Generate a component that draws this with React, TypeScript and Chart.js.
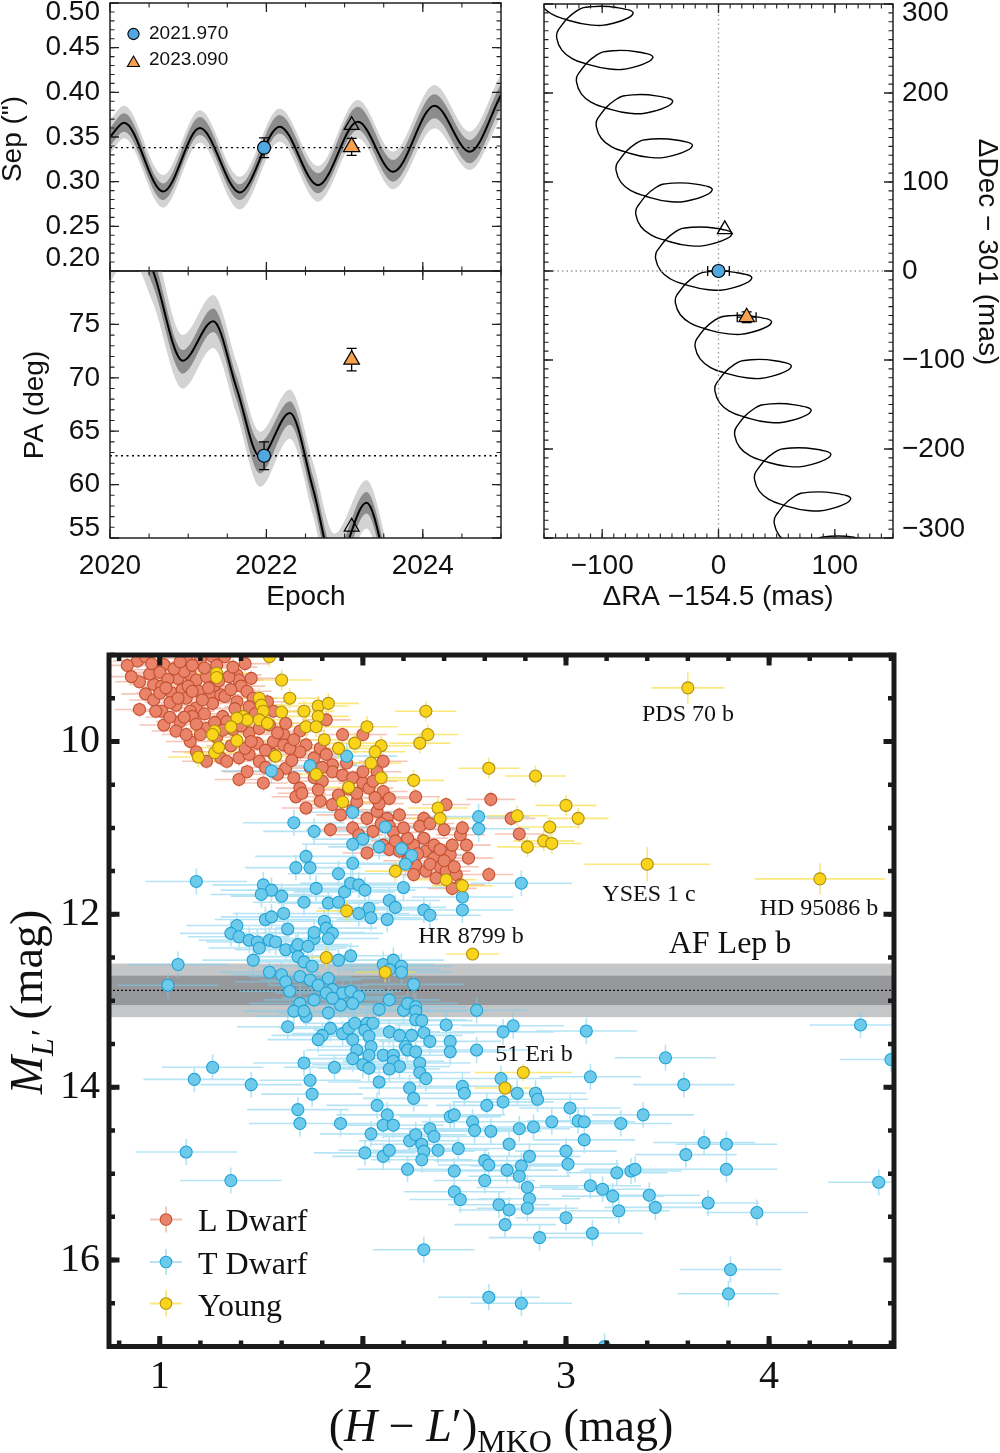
import React, { useEffect, useRef } from "react";
import { Chart, registerables } from "chart.js";

Chart.register(...registerables);

const SANS = "'Liberation Sans', Arial, Helvetica, sans-serif";
const SERIF = "'Liberation Serif', 'Times New Roman', Times, serif";
const INK = "#111111";

/* ================= Panel A : separation and PA versus epoch ================= */
const epochMin = 2020;
const epochMax = 2025;
const epochTickLabels = [2020, 2022, 2024];
const sepTickLabels = [0.25, 0.3, 0.35, 0.4, 0.45];
const sepEdgeLabels = ["0.50", "0.20"];
const paTickLabels = [60, 65, 70, 75];
const paEdgeLabel = "55";

const sepEpochs = [2020.0, 2020.18, 2020.68, 2021.15, 2021.66, 2022.17, 2022.66, 2023.17, 2023.62, 2024.15, 2024.6, 2025.0];
const sepModel = [0.35, 0.366, 0.289, 0.36, 0.288, 0.3615, 0.296, 0.367, 0.311, 0.385, 0.3335, 0.397];
const sepLightHi = [0.369, 0.385, 0.3075, 0.38, 0.3056, 0.382, 0.3175, 0.3914, 0.3336, 0.4082, 0.356, 0.421];
const sepDarkHi = [0.36, 0.3765, 0.298, 0.3725, 0.297, 0.3746, 0.3094, 0.3839, 0.3243, 0.3978, 0.3466, 0.41];
const sepDarkLo = [0.34, 0.356, 0.2795, 0.3522, 0.2795, 0.354, 0.287, 0.3578, 0.3, 0.3709, 0.3205, 0.384];
const sepLightLo = [0.331, 0.3485, 0.271, 0.3436, 0.269, 0.3447, 0.2776, 0.3485, 0.2914, 0.3597, 0.313, 0.373];

const paEpochs = [2019.95, 2020.25, 2020.55, 2020.93, 2021.32, 2021.62, 2021.92, 2022.3, 2022.6, 2022.87, 2023.28, 2023.6, 2023.92, 2024.3, 2024.9];
const paModel = [81.8, 84.5, 80.0, 71.6, 75.3, 69.0, 62.6, 66.7, 59.5, 52.3, 58.3, 50.5, 45.0, 49.0, 37.0];
const paLightHi = [85.3, 87.7, 83.0, 74.0, 77.75, 71.4, 64.95, 68.9, 62.0, 55.4, 60.4, 53.0, 47.6, 51.6, 40.0];
const paDarkHi = [83.4, 86.0, 81.4, 72.6, 76.5, 70.1, 64.0, 67.8, 60.7, 53.6, 59.3, 51.7, 46.2, 50.2, 38.3];
const paDarkLo = [80.2, 83.0, 78.6, 70.4, 74.3, 67.9, 61.05, 65.6, 58.3, 51.0, 57.3, 49.3, 43.8, 47.8, 35.7];
const paLightLo = [78.3, 81.3, 77.0, 69.0, 72.8, 66.6, 59.8, 64.3, 57.0, 49.2, 55.9, 48.0, 42.4, 46.4, 34.0];

const obsEpochs = [2021.97, 2023.09];
const obsLabels = ["2021.970", "2023.090"];
const obsSep = [0.338, 0.339];
const obsSepErr = [0.011, 0.0095];
const obsPA = [62.7, 71.7];
const obsPAErr = [1.3, 1.05];
const predEpoch = 2023.09;
const predSep = 0.3632;
const predPA = 56.05;
const sepRef = 0.338;
const paRef = 62.7;

/* ================= Panel B : sky-plane track ================= */
const raMin = -150;
const raMax = 150;
const decMin = -300;
const decMax = 300;
const raTickLabels = [-100, 0, 100];
const decTickLabels = [-200, -100, 0, 100, 200];
const decEdgeLabels = ["300", "\u2212300"];
const skyObsRA = [0, 24.2];
const skyObsDec = [0, -51.9];
const skyObsRAErr = [9.3, 8.1];
const skyObsDecErr = [3, 6];
const skyPredRA = 5.4;
const skyPredDec = 46.8;
const skyTrack: [number, number][] = [
  [-138.9, 341.8], [-154.7, 320.4], [-156.0, 311.1], [-151.8, 298.0], [-143.2, 288.6],
  [-131.9, 282.9], [-110.5, 276.5], [-90.5, 278.4], [-73.4, 289.6], [-87.6, 296.0], [-107.7, 297.1], [-121.9, 292.2], [-137.7, 270.8], [-139.0, 261.5], [-134.8, 248.4], [-126.2, 239.0],
  [-114.9, 233.3], [-93.5, 226.9], [-73.5, 228.8], [-56.4, 240.0], [-70.6, 246.4], [-90.7, 247.5], [-104.9, 242.6], [-120.7, 221.2], [-122.0, 211.9], [-117.8, 198.8], [-109.2, 189.4],
  [-97.9, 183.7], [-76.5, 177.3], [-56.5, 179.2], [-39.4, 190.4], [-53.6, 196.8], [-73.7, 197.9], [-87.9, 193.0], [-103.7, 171.6], [-105.0, 162.3], [-100.8, 149.2], [-92.2, 139.8],
  [-80.9, 134.1], [-59.5, 127.7], [-39.5, 129.6], [-22.4, 140.8], [-36.6, 147.2], [-56.7, 148.3], [-70.9, 143.4], [-86.7, 122.0], [-88.0, 112.7], [-83.8, 99.6], [-75.2, 90.2],
  [-63.9, 84.5], [-42.5, 78.1], [-22.5, 80.0], [-5.4, 91.2], [-19.6, 97.6], [-39.7, 98.7], [-53.9, 93.8], [-69.7, 72.4], [-71.0, 63.1], [-66.8, 50.0], [-58.2, 40.6],
  [-46.9, 34.9], [-25.5, 28.5], [-5.5, 30.4], [11.6, 41.6], [-2.6, 48.0], [-22.7, 49.1], [-36.9, 44.2], [-52.7, 22.8], [-54.0, 13.5], [-49.8, 0.4], [-41.2, -9.0],
  [-29.9, -14.7], [-8.5, -21.1], [11.5, -19.2], [28.6, -8.0], [14.4, -1.6], [-5.7, -0.5], [-19.9, -5.4], [-35.7, -26.8], [-37.0, -36.1], [-32.8, -49.2], [-24.2, -58.6],
  [-12.9, -64.3], [8.5, -70.7], [28.5, -68.8], [45.6, -57.6], [31.4, -51.2], [11.3, -50.1], [-2.9, -55.0], [-18.7, -76.4], [-20.0, -85.7], [-15.8, -98.8], [-7.2, -108.2],
  [4.1, -113.9], [25.5, -120.3], [45.5, -118.4], [62.6, -107.2], [48.4, -100.8], [28.3, -99.7], [14.1, -104.6], [-1.7, -126.0], [-3.0, -135.3], [1.2, -148.4], [9.8, -157.8],
  [21.1, -163.5], [42.5, -169.9], [62.5, -168.0], [79.6, -156.8], [65.4, -150.4], [45.3, -149.3], [31.1, -154.2], [15.3, -175.6], [14.0, -184.9], [18.2, -198.0], [26.8, -207.4],
  [38.1, -213.1], [59.5, -219.5], [79.5, -217.6], [96.6, -206.4], [82.4, -200.0], [62.3, -198.9], [48.1, -203.8], [32.3, -225.2], [31.0, -234.5], [35.2, -247.6], [43.8, -257.0],
  [55.1, -262.7], [76.5, -269.1], [96.5, -267.2], [113.6, -256.0], [99.4, -249.6], [79.3, -248.5], [65.1, -253.4], [49.3, -274.8], [48.0, -284.1], [52.2, -297.2], [60.8, -306.6],
  [72.1, -312.3], [93.5, -318.7], [113.5, -316.8], [130.6, -305.6], [116.4, -299.2], [96.3, -298.1], [82.1, -303.0], [66.3, -324.4],
];

/* ================= Panel C : colour-magnitude diagram ================= */
const cmdXMin = 0.75;
const cmdXMax = 4.615;
const cmdYMin = 9;
const cmdYMax = 17;
const cmdXTickLabels = [1, 2, 3, 4];
const cmdYTickLabels = [10, 12, 14, 16];

const lDwarfs: [number, number][] = [
  [0.89, 9.07], [0.98, 9.17], [1.02, 9.11], [1.13, 9.04], [1.2, 9.06], [1.26, 9.02], [1.32, 9.02],
  [0.9, 9.31], [0.97, 9.34], [1.01, 9.36], [1.09, 9.27], [1.15, 9.23], [1.12, 9.19], [1.18, 9.29], [1.23, 9.25], [1.38, 9.23], [1.39, 9.29], [1.45, 9.27], [1.34, 9.25],
  [1.06, 9.44], [1.11, 9.4], [1.19, 9.42], [1.13, 9.5], [1.25, 9.46], [1.3, 9.46], [1.32, 9.48], [1.26, 9.56], [1.18, 9.61], [1.08, 9.58], [0.9, 9.63], [1.01, 9.65], [1.15, 9.65],
  [1.4, 9.36], [1.43, 9.42], [1.38, 9.54], [1.46, 9.5], [1.53, 9.54], [1.56, 9.65],
  [1.02, 9.81], [1.1, 9.77], [1.16, 9.71], [1.23, 9.85], [1.2, 9.92], [1.15, 10.0], [1.08, 9.88], [1.31, 9.71], [1.33, 9.77], [1.36, 9.86], [1.44, 9.9], [1.49, 9.85], [1.54, 9.81],
  [1.61, 9.92], [1.62, 9.79], [1.69, 9.88], [1.72, 10.04], [1.56, 10.0], [1.82, 9.75], [1.9, 9.92], [2.0, 9.92],
  [1.18, 10.12], [1.23, 10.23], [1.3, 10.19], [1.33, 10.23], [1.39, 10.19], [1.44, 10.15], [1.49, 10.23], [1.56, 10.15], [1.61, 10.04], [1.69, 10.12], [1.76, 10.19], [1.79, 10.08], [1.82, 10.15], [1.85, 10.27],
  [1.39, 10.44], [1.51, 10.48], [1.43, 10.35], [1.62, 10.31], [1.66, 10.42], [1.69, 10.54], [1.76, 10.42], [1.8, 10.46], [1.85, 10.35], [1.9, 10.39], [1.95, 10.42], [2.0, 10.48], [2.03, 10.54],
  [2.1, 10.58], [2.07, 10.35], [2.13, 10.66], [2.1, 10.23], [2.0, 10.35], [2.05, 10.46],
  [1.67, 10.64], [1.72, 10.77], [1.79, 10.69], [1.85, 10.73], [1.89, 10.85], [1.95, 10.79], [2.02, 10.89], [2.07, 10.81], [2.12, 10.89], [2.18, 10.85], [2.13, 10.98], [1.95, 11.0], [1.84, 11.02], [1.98, 11.08], [2.05, 11.04],
  [2.02, 11.29], [2.1, 11.2], [2.13, 11.25], [2.18, 11.27], [2.25, 11.2], [2.3, 11.12], [2.31, 11.27], [2.35, 11.35], [2.26, 11.43], [2.31, 11.5], [2.38, 11.45], [2.43, 11.31], [2.44, 11.2],
  [2.48, 11.08], [2.49, 11.0], [2.51, 11.2], [2.41, 11.5], [2.25, 11.54], [2.36, 11.58], [2.46, 11.54], [2.48, 11.66], [2.44, 11.7], [2.62, 11.54], [2.63, 10.67], [2.41, 10.73], [2.26, 10.64],
  [2.3, 10.89], [2.4, 11.02], [2.22, 11.12], [2.28, 10.98], [2.35, 11.2], [2.73, 10.89], [2.77, 11.07],
  [0.95, 9.22], [1.05, 9.55], [1.22, 9.68], [1.28, 9.95], [1.35, 10.05], [1.42, 10.08], [1.48, 10.02], [1.52, 10.3], [1.58, 10.38], [1.65, 10.22], [1.7, 10.6], [1.78, 10.56],
  [1.88, 10.62], [1.93, 10.55], [1.97, 10.7], [2.08, 10.72], [2.15, 11.05], [2.2, 11.0], [2.22, 11.38], [2.38, 11.25], [2.33, 10.95], [1.14, 9.36], [1.05, 9.72], [1.27, 9.35],
  [0.84, 9.12], [0.86, 9.25], [0.93, 9.02], [0.96, 9.1], [1.0, 9.2], [1.04, 9.28], [1.07, 9.16], [1.1, 9.08], [1.16, 9.12], [1.22, 9.15], [1.28, 9.12], [1.36, 9.14], [1.42, 9.1],
  [0.93, 9.45], [0.97, 9.52], [1.0, 9.44], [1.03, 9.38], [1.09, 9.5], [1.16, 9.42], [1.21, 9.52], [1.24, 9.38], [1.29, 9.3], [1.35, 9.4], [1.37, 9.62], [1.44, 9.6], [1.47, 9.68],
  [1.12, 9.72], [1.18, 9.8], [1.27, 9.78], [1.31, 9.87], [1.4, 9.82], [1.45, 10.0], [1.52, 10.1], [1.58, 9.9], [1.64, 10.08], [1.66, 9.98], [1.74, 10.3], [1.8, 10.3], [1.92, 10.25],
  [1.97, 10.6], [2.06, 10.65], [2.09, 10.95], [2.16, 11.15], [2.27, 11.3], [2.33, 11.42], [2.4, 11.38], [2.45, 11.45], [2.52, 11.35], [0.98, 9.65], [1.13, 9.92],
];

const tDwarfs: [number, number][] = [
  [1.55, 10.34], [1.74, 10.28], [1.92, 10.17], [1.95, 10.82], [1.66, 10.94], [1.76, 11.04], [2.11, 10.99], [2.57, 10.87], [2.57, 11.01], [1.95, 11.19], [2.0, 11.13], [2.08, 11.22],
  [2.19, 11.24], [2.24, 11.32], [2.21, 11.42], [1.95, 11.41], [1.72, 11.33], [1.67, 11.46], [1.74, 11.46], [1.88, 11.53], [1.18, 11.62], [1.51, 11.66], [1.55, 11.72], [1.5, 11.77],
  [1.6, 11.79], [1.77, 11.7], [1.91, 11.74], [1.94, 11.64], [1.98, 11.66], [2.01, 11.72], [2.2, 11.69], [2.13, 11.84], [2.16, 11.92], [2.03, 11.93], [1.98, 11.99], [2.04, 12.04],
  [2.12, 12.06], [2.3, 11.95], [2.33, 12.01], [2.49, 11.8], [2.49, 11.95], [1.71, 11.86], [1.83, 11.87], [1.88, 11.86], [1.52, 12.06], [1.55, 12.03], [1.61, 11.99], [1.63, 12.17],
  [1.81, 12.08], [1.82, 12.16], [1.85, 12.22], [1.83, 12.28], [1.76, 12.28], [1.76, 12.21], [1.38, 12.13], [1.35, 12.22], [1.39, 12.26], [1.44, 12.3], [1.48, 12.32], [1.49, 12.39],
  [1.54, 12.3], [1.57, 12.32], [1.62, 12.41], [1.67, 12.39], [1.68, 12.35], [1.73, 12.37], [1.68, 12.49], [1.71, 12.55], [1.75, 12.6], [1.88, 12.53], [1.94, 12.48], [1.46, 12.53],
  [1.09, 12.58], [1.04, 12.82], [1.54, 12.67], [1.6, 12.7], [1.62, 12.78], [1.69, 12.72], [1.74, 12.76], [1.78, 12.82], [1.83, 12.74], [2.1, 12.58], [2.15, 12.53], [2.13, 12.64],
  [2.19, 12.6], [2.19, 12.67], [2.25, 12.81], [2.78, 11.64],
  [1.85, 12.87], [1.64, 12.89], [1.69, 13.03], [1.76, 12.99], [1.82, 12.91], [1.9, 12.91], [1.94, 12.89], [1.98, 12.95], [1.95, 13.03], [1.89, 13.05], [1.85, 12.97], [1.66, 13.12],
  [1.72, 13.18], [1.71, 13.12], [1.83, 13.14], [2.13, 12.99], [2.08, 13.1], [2.2, 13.11], [2.22, 13.03], [2.26, 13.07], [2.26, 13.12], [2.26, 13.22], [2.29, 13.23], [2.56, 13.11],
  [1.63, 13.3], [1.84, 13.32], [1.8, 13.4], [1.78, 13.45], [1.9, 13.38], [1.93, 13.32], [1.96, 13.26], [2.02, 13.26], [2.01, 13.34], [2.05, 13.26], [2.03, 13.41], [1.95, 13.45],
  [1.97, 13.57], [2.13, 13.36], [2.18, 13.4], [2.24, 13.4], [2.3, 13.37], [2.33, 13.47], [2.41, 13.28], [2.43, 13.47], [2.43, 13.59], [2.21, 13.53], [2.22, 13.57], [2.26, 13.59],
  [2.04, 13.53], [2.03, 13.63], [2.1, 13.63], [2.15, 13.63], [2.15, 13.7], [2.18, 13.76], [2.13, 13.79], [1.95, 13.67], [2.0, 13.74], [2.03, 13.78], [2.28, 13.72], [2.28, 13.83],
  [2.31, 13.9], [1.71, 13.72], [1.86, 13.77], [1.74, 13.92], [1.75, 14.08], [2.08, 13.94], [2.23, 14.01], [2.25, 14.13], [2.49, 13.99], [2.5, 14.07], [2.61, 14.21], [2.56, 13.57],
  [1.17, 13.91], [1.26, 13.77], [1.45, 13.97], [1.68, 14.26], [1.69, 14.42], [1.89, 14.42], [2.07, 14.21], [2.12, 14.32], [2.1, 14.44], [2.15, 14.44], [2.04, 14.54], [2.23, 14.62],
  [2.26, 14.55], [2.29, 14.66], [2.3, 14.74], [2.29, 14.84], [2.33, 14.48], [2.35, 14.57], [2.37, 14.73], [2.43, 14.34], [2.45, 14.32], [2.47, 14.71], [2.54, 14.4], [2.55, 14.5],
  [2.63, 14.51], [2.01, 14.76], [2.1, 14.8], [2.13, 14.73], [2.22, 14.95], [2.45, 14.97], [2.45, 15.21], [2.48, 15.3], [2.6, 14.85], [2.62, 14.9], [2.6, 15.08], [2.67, 15.36],
  [1.13, 14.75], [1.35, 15.08], [2.3, 15.88], [2.62, 16.43],
  [2.74, 13.29], [2.69, 13.36], [3.1, 13.35], [4.45, 13.28], [4.6, 13.68], [3.49, 13.66], [3.58, 13.97], [3.12, 13.88], [2.68, 13.9], [2.76, 14.07], [2.85, 14.07], [2.86, 14.14],
  [2.69, 14.17], [3.02, 14.24], [3.38, 14.32], [3.27, 14.42], [3.06, 14.39], [3.09, 14.4], [2.93, 14.4], [2.77, 14.48], [2.84, 14.46], [2.72, 14.66], [3.09, 14.61], [3.0, 14.74],
  [3.01, 14.89], [2.82, 14.8], [2.78, 14.91], [2.71, 14.96], [2.77, 15.03], [2.81, 15.16], [2.82, 15.29], [2.81, 15.4], [2.72, 15.42], [2.7, 15.59], [2.87, 15.74], [3.0, 15.51],
  [3.13, 15.69], [3.12, 15.14], [3.18, 15.18], [3.23, 15.26], [3.26, 15.43], [3.25, 14.99], [3.32, 14.97], [3.34, 14.95], [3.41, 15.25], [3.44, 15.39], [3.59, 14.78], [3.68, 14.64],
  [3.79, 14.66], [3.79, 14.95], [3.7, 15.34], [3.94, 15.45], [4.54, 15.1], [3.81, 16.11], [3.8, 16.39], [2.78, 16.5], [3.19, 17.0],
];

const youngObjects: [number, number][] = [
  [1.54, 9.02], [1.28, 9.21], [1.28, 9.26], [1.6, 9.29], [1.49, 9.5], [1.5, 9.58], [1.64, 9.5], [1.51, 9.65], [1.6, 9.66], [1.71, 9.65], [1.78, 9.59], [1.83, 9.56], [1.78, 9.71],
  [1.49, 9.75], [1.53, 9.79], [1.72, 9.83], [1.77, 9.83], [1.41, 9.71], [1.43, 9.75], [1.38, 9.73], [1.35, 9.83], [1.27, 9.88], [1.38, 9.99], [1.26, 9.92], [1.19, 10.18], [1.27, 10.13],
  [1.29, 10.07], [1.57, 10.17], [1.81, 9.98], [1.88, 10.08], [1.96, 10.02], [2.02, 9.83], [2.09, 10.05], [2.06, 10.12], [2.04, 10.25], [2.09, 10.42], [2.31, 9.65], [2.32, 9.92],
  [2.28, 10.02], [2.25, 10.45], [1.93, 10.53], [1.9, 10.7], [1.77, 10.38], [2.37, 10.77], [2.38, 10.89], [2.62, 10.31], [2.16, 11.5], [2.41, 11.6], [2.49, 11.67], [1.92, 11.96],
  [1.82, 12.5], [2.11, 12.67], [2.85, 10.4], [3.0, 10.74], [3.06, 10.89], [2.76, 10.86], [2.92, 10.99], [2.89, 11.15], [2.93, 11.18], [2.81, 11.22], [2.7, 14.01],
];

const planetNames = ["PDS 70 b", "YSES 1 c", "HD 95086 b", "HR 8799 b", "51 Eri b"];
const planetColor = [3.6, 3.4, 4.25, 2.54, 2.79];
const planetMag = [9.38, 11.42, 11.59, 12.46, 13.83];
const planetColorErr = [0.18, 0.31, 0.32, 0.13, 0.24];
const planetMagErr = [0.18, 0.2, 0.18, 0.05, 0.1];

const afLepName = "AF Lep b";
const afLepMag = 12.88;
const afLepErr1 = 0.17;
const afLepErr2 = 0.31;

const lDwarfErr = [0.12, 0.09];
const tDwarfErr = [0.25, 0.15];
const youngErr = [0.15, 0.12];
const legendNames = ["L Dwarf", "T Dwarf", "Young"];

/* ================= styles / layout ================= */
const BLUE = "#4FA8E0";
const ORANGE = "#F5A14E";
const BAND_LIGHT = "#d3d3d3";
const BAND_DARK = "#8c8c8c";
const L_FILL = "#E9846A";
const L_EDGE = "#C44F2E";
const L_BAR = "rgba(236,150,128,0.55)";
const T_FILL = "#6DCAEB";
const T_EDGE = "#1FA3D6";
const T_BAR = "rgba(120,205,236,0.55)";
const Y_FILL = "#FAD41B";
const Y_EDGE = "#B08F10";
const Y_BAR = "rgba(250,222,70,0.7)";

const CMD_TOP = 640;
const planetLabelPos = [[688, 721], [649, 901], [819, 915], [471, 943], [534, 1061]];
const afLepLabelPos = [730, 953];

/* ================= helpers ================= */
const xy = (xs: number[], ys: number[]) => xs.map((x, i) => ({ x, y: ys[i] }));
const pairs = (p: [number, number][]) => p.map(([x, y]) => ({ x, y }));
const minus = (v: number) => (v < 0 ? "\u2212" + Math.abs(v) : String(v));

function steps(a: number, b: number, s: number) {
  const out: number[] = [];
  const n = Math.round((b - a) / s);
  for (let i = 0; i <= n; i++) out.push(+(a + i * s).toFixed(6));
  return out;
}

const setTicks = (vals: number[]) => (scale: any) => {
  scale.ticks = vals.map((v) => ({ value: v }));
};
const fixSize = (w?: number, h?: number) => (scale: any) => {
  if (w !== undefined) scale.width = w;
  if (h !== undefined) scale.height = h;
  scale.paddingTop = 0;
  scale.paddingBottom = 0;
  scale.paddingLeft = 0;
  scale.paddingRight = 0;
};

function axis(extra: any) {
  return {
    type: "linear",
    bounds: "data",
    grid: { display: false, drawTicks: false },
    border: { display: false },
    ...extra,
  };
}

function tickFont(family: string, size: number, padding: number, callback: any) {
  return { font: { family, size }, color: INK, padding, autoSkip: false, maxRotation: 0, minRotation: 0, callback };
}

function drawInTicks(ctx: any, chart: any, xv: number[], yv: number[], len: number, lw: number) {
  const a = chart.chartArea;
  const xs = chart.scales.x;
  const ys = chart.scales.y;
  ctx.save();
  ctx.lineWidth = lw;
  ctx.beginPath();
  for (const v of xv) {
    const p = xs.getPixelForValue(v);
    if (p < a.left - 0.5 || p > a.right + 0.5) continue;
    ctx.moveTo(p, a.bottom);
    ctx.lineTo(p, a.bottom - len);
    ctx.moveTo(p, a.top);
    ctx.lineTo(p, a.top + len);
  }
  for (const v of yv) {
    const p = ys.getPixelForValue(v);
    if (p < a.top - 0.5 || p > a.bottom + 0.5) continue;
    ctx.moveTo(a.left, p);
    ctx.lineTo(a.left + len, p);
    ctx.moveTo(a.right, p);
    ctx.lineTo(a.right - len, p);
  }
  ctx.stroke();
  ctx.restore();
}

function text(ctx: any, s: string, x: number, y: number, font: string, align = "center", baseline = "middle", rot = 0) {
  ctx.save();
  ctx.translate(x, y);
  if (rot) ctx.rotate(rot);
  ctx.font = font;
  ctx.fillStyle = INK;
  ctx.textAlign = align;
  ctx.textBaseline = baseline;
  ctx.fillText(s, 0, 0);
  ctx.restore();
}

function triPath(ctx: any, x: number, y: number, r: number) {
  ctx.beginPath();
  ctx.moveTo(x, y - r);
  ctx.lineTo(x + r * Math.sin((2 * Math.PI) / 3), y - r * Math.cos((2 * Math.PI) / 3));
  ctx.lineTo(x + r * Math.sin((4 * Math.PI) / 3), y - r * Math.cos((4 * Math.PI) / 3));
  ctx.closePath();
}

const errorBars = {
  id: "errorBars",
  beforeDatasetDraw(chart: any, args: any) {
    const ds: any = chart.data.datasets[args.index];
    if (!ds.errX && !ds.errY) return;
    const { ctx } = chart;
    const xs = chart.scales.x;
    const ys = chart.scales.y;
    const cap = 5;
    ctx.save();
    ctx.strokeStyle = "#000";
    ctx.lineWidth = 1.3;
    ds.data.forEach((p: any, i: number) => {
      const px = xs.getPixelForValue(p.x);
      const py = ys.getPixelForValue(p.y);
      ctx.beginPath();
      if (ds.errY) {
        const y1 = ys.getPixelForValue(p.y + ds.errY[i]);
        const y2 = ys.getPixelForValue(p.y - ds.errY[i]);
        ctx.moveTo(px, y1); ctx.lineTo(px, y2);
        ctx.moveTo(px - cap, y1); ctx.lineTo(px + cap, y1);
        ctx.moveTo(px - cap, y2); ctx.lineTo(px + cap, y2);
      }
      if (ds.errX) {
        const x1 = xs.getPixelForValue(p.x - ds.errX[i]);
        const x2 = xs.getPixelForValue(p.x + ds.errX[i]);
        ctx.moveTo(x1, py); ctx.lineTo(x2, py);
        ctx.moveTo(x1, py - cap); ctx.lineTo(x1, py + cap);
        ctx.moveTo(x2, py - cap); ctx.lineTo(x2, py + cap);
      }
      ctx.stroke();
    });
    ctx.restore();
  },
};

const base = {
  responsive: false,
  animation: false,
  events: [],
  plugins: { legend: { display: false }, tooltip: { enabled: false } },
};

function bandSets(xs: number[], lh: number[], dh: number[], dl: number[], ll: number[], mid: number[]) {
  const common = { pointRadius: 0, borderWidth: 0, cubicInterpolationMode: "monotone" };
  return [
    { ...common, data: xy(xs, lh), fill: "+1", backgroundColor: BAND_LIGHT, order: 3 },
    { ...common, data: xy(xs, ll), fill: false, order: 3 },
    { ...common, data: xy(xs, dh), fill: "+1", backgroundColor: BAND_DARK, order: 2 },
    { ...common, data: xy(xs, dl), fill: false, order: 2 },
    { ...common, data: xy(xs, mid), fill: false, borderWidth: 2, borderColor: "#000", order: 1 },
  ];
}

function refLine(x0: number, x1: number, y0: number, y1: number, color: string, dash: number[], w: number) {
  return { data: [{ x: x0, y: y0 }, { x: x1, y: y1 }], borderColor: color, borderWidth: w, borderDash: dash, pointRadius: 0, fill: false, order: 0 };
}

const topTicksX = { major: epochTickLabels, minor: steps(2020, 2025, 0.5) };

/* ---------------- chart builders ---------------- */
function sepConfig(): any {
  return {
    type: "line",
    data: {
      datasets: [
        ...bandSets(sepEpochs, sepLightHi, sepDarkHi, sepDarkLo, sepLightLo, sepModel),
        refLine(epochMin, epochMax, sepRef, sepRef, "#000", [2, 3.5], 1.3),
        { data: [{ x: obsEpochs[0], y: obsSep[0] }], errY: [obsSepErr[0]], showLine: false, pointStyle: "circle", pointRadius: 6.5, pointBackgroundColor: BLUE, pointBorderColor: "#000", pointBorderWidth: 1.2, order: -2 },
        { data: [{ x: obsEpochs[1], y: obsSep[1] }], errY: [obsSepErr[1]], showLine: false, pointStyle: "triangle", pointRadius: 9.5, pointBackgroundColor: ORANGE, pointBorderColor: "#000", pointBorderWidth: 1.2, order: -2 },
        { data: [{ x: predEpoch, y: predSep }], showLine: false, pointStyle: "triangle", pointRadius: 8.5, pointBackgroundColor: "rgba(0,0,0,0)", pointBorderColor: "#000", pointBorderWidth: 1.3, order: -1 },
      ],
    },
    options: {
      ...base,
      layout: { autoPadding: false, padding: { left: 0, top: 3, right: 19, bottom: 19 } },
      scales: {
        x: axis({ display: false, min: epochMin, max: epochMax }),
        y: axis({
          min: 0.2, max: 0.5, position: "left",
          afterBuildTicks: setTicks(sepTickLabels),
          afterFit: fixSize(110),
          ticks: tickFont(SANS, 28, 10, (v: number) => v.toFixed(2)),
        }),
      },
    },
    plugins: [
      errorBars,
      {
        id: "sepDecor",
        afterDraw(chart: any) {
          const ctx = chart.ctx;
          const a = chart.chartArea;
          ctx.strokeStyle = "#222";
          drawInTicks(ctx, chart, topTicksX.major, steps(0.2, 0.5, 0.05), 9, 1.3);
          drawInTicks(ctx, chart, topTicksX.minor, steps(0.2, 0.5, 0.01), 4.5, 1.1);
          ctx.save();
          ctx.lineWidth = 1.5;
          ctx.strokeRect(a.left, a.top, a.right - a.left, a.bottom - a.top);
          ctx.restore();
          const f = `28px ${SANS}`;
          text(ctx, sepEdgeLabels[0], 100, 12, f, "right");
          text(ctx, sepEdgeLabels[1], 100, 258, f, "right");
          text(ctx, 'Sep (")', 13, 139, f, "center", "middle", -Math.PI / 2);
          ctx.save();
          ctx.lineWidth = 1.1;
          ctx.strokeStyle = "#000";
          ctx.beginPath();
          ctx.arc(133.5, 34, 5.6, 0, Math.PI * 2);
          ctx.fillStyle = BLUE;
          ctx.fill();
          ctx.stroke();
          triPath(ctx, 133.5, 63, 7);
          ctx.fillStyle = ORANGE;
          ctx.fill();
          ctx.stroke();
          ctx.restore();
          const lf = `19px ${SANS}`;
          text(ctx, obsLabels[0], 149, 34, lf, "left");
          text(ctx, obsLabels[1], 149, 60, lf, "left");
        },
      },
    ],
  };
}

function paConfig(): any {
  return {
    type: "line",
    data: {
      datasets: [
        ...bandSets(paEpochs, paLightHi, paDarkHi, paDarkLo, paLightLo, paModel),
        refLine(epochMin, epochMax, paRef, paRef, "#000", [2, 3.5], 1.3),
        { data: [{ x: obsEpochs[0], y: obsPA[0] }], errY: [obsPAErr[0]], showLine: false, pointStyle: "circle", pointRadius: 6.5, pointBackgroundColor: BLUE, pointBorderColor: "#000", pointBorderWidth: 1.2, order: -2 },
        { data: [{ x: obsEpochs[1], y: obsPA[1] }], errY: [obsPAErr[1]], showLine: false, pointStyle: "triangle", pointRadius: 9, pointBackgroundColor: ORANGE, pointBorderColor: "#000", pointBorderWidth: 1.2, order: -2 },
        { data: [{ x: predEpoch, y: predPA }], showLine: false, pointStyle: "triangle", pointRadius: 8.5, pointBackgroundColor: "rgba(0,0,0,0)", pointBorderColor: "#000", pointBorderWidth: 1.3, order: -1 },
      ],
    },
    options: {
      ...base,
      layout: { autoPadding: false, padding: { left: 0, top: 21, right: 19, bottom: 42 } },
      scales: {
        x: axis({
          min: epochMin, max: epochMax, position: "bottom",
          afterBuildTicks: setTicks(epochTickLabels),
          afterFit: fixSize(undefined, 60),
          ticks: tickFont(SANS, 28, 11, (v: number) => String(v)),
        }),
        y: axis({
          min: 55, max: 80, position: "left",
          afterBuildTicks: setTicks(paTickLabels),
          afterFit: fixSize(110),
          ticks: tickFont(SANS, 28, 10, (v: number) => String(v)),
        }),
      },
    },
    plugins: [
      errorBars,
      {
        id: "paDecor",
        afterDraw(chart: any) {
          const ctx = chart.ctx;
          const a = chart.chartArea;
          ctx.strokeStyle = "#222";
          drawInTicks(ctx, chart, topTicksX.major, steps(55, 80, 5), 9, 1.3);
          drawInTicks(ctx, chart, topTicksX.minor, steps(55, 80, 1), 4.5, 1.1);
          ctx.save();
          ctx.lineWidth = 1.5;
          ctx.strokeRect(a.left, a.top, a.right - a.left, a.bottom - a.top);
          ctx.restore();
          const f = `28px ${SANS}`;
          const off = 250;
          text(ctx, paEdgeLabel, 100, 528 - off, f, "right");
          text(ctx, "PA (deg)", 35, 405 - off, f, "center", "middle", -Math.PI / 2);
          text(ctx, "Epoch", 306, 605 - off, f, "center", "alphabetic");
        },
      },
    ],
  };
}

function skyConfig(): any {
  return {
    type: "line",
    data: {
      datasets: [
        refLine(0, 0, decMin, decMax, "#9a9a9a", [1.5, 3], 1.3),
        refLine(raMin, raMax, 0, 0, "#9a9a9a", [1.5, 3], 1.3),
        { data: pairs(skyTrack), borderColor: "#000", borderWidth: 1.4, pointRadius: 0, tension: 0.45, fill: false, order: 0 },
        { data: [{ x: skyObsRA[0], y: skyObsDec[0] }], errX: [skyObsRAErr[0]], errY: [skyObsDecErr[0]], showLine: false, pointStyle: "circle", pointRadius: 6.5, pointBackgroundColor: BLUE, pointBorderColor: "#000", pointBorderWidth: 1.2, order: -2 },
        { data: [{ x: skyObsRA[1], y: skyObsDec[1] }], errX: [skyObsRAErr[1]], errY: [skyObsDecErr[1]], showLine: false, pointStyle: "triangle", pointRadius: 9, pointBackgroundColor: ORANGE, pointBorderColor: "#000", pointBorderWidth: 1.2, order: -2 },
        { data: [{ x: skyPredRA, y: skyPredDec }], showLine: false, pointStyle: "triangle", pointRadius: 8.5, pointBackgroundColor: "rgba(0,0,0,0)", pointBorderColor: "#000", pointBorderWidth: 1.3, order: -1 },
      ],
    },
    options: {
      ...base,
      layout: { autoPadding: false, padding: { left: 24, top: 4, right: 0, bottom: 42 } },
      scales: {
        x: axis({
          min: raMin, max: raMax, position: "bottom",
          afterBuildTicks: setTicks(raTickLabels),
          afterFit: fixSize(undefined, 60),
          ticks: tickFont(SANS, 28, 11, minus),
        }),
        y: axis({
          min: decMin, max: decMax, position: "right",
          afterBuildTicks: setTicks(decTickLabels),
          afterFit: fixSize(107),
          ticks: tickFont(SANS, 28, 9, minus),
        }),
      },
    },
    plugins: [
      errorBars,
      {
        id: "skyDecor",
        afterDraw(chart: any) {
          const ctx = chart.ctx;
          const a = chart.chartArea;
          ctx.strokeStyle = "#222";
          drawInTicks(ctx, chart, steps(-100, 100, 100), steps(-300, 300, 100), 9, 1.3);
          drawInTicks(ctx, chart, steps(-150, 150, 10), steps(-300, 300, 10), 4.5, 1.1);
          ctx.save();
          ctx.lineWidth = 1.5;
          ctx.strokeRect(a.left, a.top, a.right - a.left, a.bottom - a.top);
          ctx.restore();
          const f = `28px ${SANS}`;
          const ox = 520;
          text(ctx, decEdgeLabels[0], 902 - ox, 13, f, "left");
          text(ctx, decEdgeLabels[1], 902 - ox, 529, f, "left");
          text(ctx, "\u0394RA \u2212154.5 (mas)", 718 - ox, 605, f, "center", "alphabetic");
          text(ctx, "\u0394Dec \u2212 301 (mas)", 987 - ox, 252, f, "center", "middle", Math.PI / 2);
        },
      },
    ],
  };
}

type Run = { t: string; italic?: boolean; sub?: boolean };
function drawRuns(ctx: any, runs: Run[], cx: number, baseY: number, size: number, rot: number) {
  const fontFor = (r: Run) => `${r.italic ? "italic " : ""}${r.sub ? Math.round(size * 0.7) : size}px ${SERIF}`;
  ctx.save();
  ctx.translate(cx, baseY);
  ctx.rotate(rot);
  let total = 0;
  for (const r of runs) {
    ctx.font = fontFor(r);
    total += ctx.measureText(r.t).width;
  }
  let x = -total / 2;
  ctx.fillStyle = INK;
  ctx.textAlign = "left";
  ctx.textBaseline = "alphabetic";
  for (const r of runs) {
    ctx.font = fontFor(r);
    ctx.fillText(r.t, x, r.sub ? size * 0.24 : 0);
    x += ctx.measureText(r.t).width;
  }
  ctx.restore();
}

function cmdConfig(): any {
  const pt = (fill: string, edge: string, order: number) => ({
    showLine: false, pointStyle: "circle", pointRadius: 6, pointBackgroundColor: fill, pointBorderColor: edge, pointBorderWidth: 1.1, order, clip: 0,
  });
  return {
    type: "scatter",
    data: {
      datasets: [
        { label: legendNames[0], data: pairs(lDwarfs), ...pt(L_FILL, L_EDGE, 3) },
        { label: legendNames[1], data: pairs(tDwarfs), ...pt(T_FILL, T_EDGE, 2) },
        { label: legendNames[2], data: pairs(youngObjects), ...pt(Y_FILL, Y_EDGE, 1) },
        { label: "named", data: xy(planetColor, planetMag), ...pt(Y_FILL, Y_EDGE, 0) },
      ],
    },
    options: {
      ...base,
      layout: { autoPadding: false, padding: { left: 49, top: 15, right: 106, bottom: 46.5 } },
      scales: {
        x: axis({
          min: cmdXMin, max: cmdXMax, position: "bottom",
          afterBuildTicks: setTicks(cmdXTickLabels),
          afterFit: fixSize(undefined, 60),
          ticks: tickFont(SERIF, 40, 7, (v: number) => String(v)),
        }),
        y: axis({
          min: cmdYMin, max: cmdYMax, reverse: true, position: "left",
          afterBuildTicks: setTicks(cmdYTickLabels),
          afterFit: fixSize(60),
          ticks: tickFont(SERIF, 40, 9, (v: number) => String(v)),
        }),
      },
    },
    plugins: [
      {
        id: "cmdDecor",
        beforeDatasetsDraw(chart: any) {
          const { ctx } = chart;
          const a = chart.chartArea;
          const xs = chart.scales.x;
          const ys = chart.scales.y;
          ctx.save();
          ctx.beginPath();
          ctx.rect(a.left, a.top, a.right - a.left, a.bottom - a.top);
          ctx.clip();
          const band = (lo: number, hi: number, c: string) => {
            const y1 = ys.getPixelForValue(lo);
            const y2 = ys.getPixelForValue(hi);
            ctx.fillStyle = c;
            ctx.fillRect(a.left, Math.min(y1, y2), a.right - a.left, Math.abs(y2 - y1));
          };
          band(afLepMag - afLepErr2, afLepMag + afLepErr2, "#c5c6c8");
          band(afLepMag - afLepErr1, afLepMag + afLepErr1, "#97989b");
          const ym = ys.getPixelForValue(afLepMag);
          ctx.strokeStyle = "#111";
          ctx.lineWidth = 1.3;
          ctx.setLineDash([2, 2]);
          ctx.beginPath();
          ctx.moveTo(a.left, ym);
          ctx.lineTo(a.right, ym);
          ctx.stroke();
          ctx.setLineDash([]);
          const bars = (xv: number[], yv: number[], xe: number[], ye: number[], c: string) => {
            ctx.strokeStyle = c;
            ctx.lineWidth = 1.6;
            ctx.beginPath();
            xv.forEach((x, i) => {
              const px = xs.getPixelForValue(x);
              const py = ys.getPixelForValue(yv[i]);
              ctx.moveTo(xs.getPixelForValue(x - xe[i]), py);
              ctx.lineTo(xs.getPixelForValue(x + xe[i]), py);
              ctx.moveTo(px, ys.getPixelForValue(yv[i] - ye[i]));
              ctx.lineTo(px, ys.getPixelForValue(yv[i] + ye[i]));
            });
            ctx.stroke();
          };
          const grp = (p: [number, number][], e: number[], c: string) =>
            bars(p.map((q) => q[0]), p.map((q) => q[1]), p.map(() => e[0]), p.map(() => e[1]), c);
          grp(lDwarfs, lDwarfErr, L_BAR);
          grp(tDwarfs, tDwarfErr, T_BAR);
          grp(youngObjects, youngErr, Y_BAR);
          bars(planetColor, planetMag, planetColorErr, planetMagErr, Y_BAR);
          ctx.restore();
        },
        afterDatasetsDraw(chart: any) {
          const { ctx } = chart;
          const a = chart.chartArea;
          const oy = CMD_TOP;
          ctx.save();
          ctx.strokeStyle = "#1a1a1a";
          drawInTicks(ctx, chart, cmdXTickLabels, cmdYTickLabels, 10.5, 5);
          drawInTicks(ctx, chart, steps(0.8, 4.6, 0.2), steps(9, 17, 0.5), 6, 4.5);
          ctx.lineWidth = 5;
          ctx.strokeRect(a.left, a.top, a.right - a.left, a.bottom - a.top);
          ctx.restore();
          const af = `24px ${SERIF}`;
          planetNames.forEach((n, i) => text(ctx, n, planetLabelPos[i][0], planetLabelPos[i][1] - oy, af, "center", "alphabetic"));
          text(ctx, afLepName, afLepLabelPos[0], afLepLabelPos[1] - oy, `32px ${SERIF}`, "center", "alphabetic");
          const leg = [
            [L_FILL, L_EDGE, L_BAR, 1219.5, 1231],
            [T_FILL, T_EDGE, T_BAR, 1262, 1273.5],
            [Y_FILL, Y_EDGE, Y_BAR, 1303.5, 1315.5],
          ] as any[];
          leg.forEach(([fill, edge, bar, my, by], i) => {
            const mx = 166;
            const yy = my - oy;
            ctx.save();
            ctx.strokeStyle = bar;
            ctx.lineWidth = 1.8;
            ctx.beginPath();
            ctx.moveTo(mx - 16, yy); ctx.lineTo(mx + 16, yy);
            ctx.moveTo(mx, yy - 13); ctx.lineTo(mx, yy + 13);
            ctx.stroke();
            ctx.beginPath();
            ctx.arc(mx, yy, 5.8, 0, Math.PI * 2);
            ctx.fillStyle = fill;
            ctx.fill();
            ctx.strokeStyle = edge;
            ctx.lineWidth = 1.1;
            ctx.stroke();
            ctx.restore();
            text(ctx, legendNames[i], 198, by - oy, `32px ${SERIF}`, "left", "alphabetic");
          });
          drawRuns(ctx, [
            { t: "(" }, { t: "H", italic: true }, { t: " \u2212 " }, { t: "L", italic: true }, { t: "\u2032)" },
            { t: "MKO", sub: true }, { t: " (mag)" },
          ], 501, 1441 - oy, 46, 0);
          drawRuns(ctx, [
            { t: "M", italic: true }, { t: "L\u2032", italic: true, sub: true }, { t: " (mag)" },
          ], 42, 1002 - oy, 46, -Math.PI / 2);
        },
      },
    ],
  };
}

function ChartBox({ left, top, width, height, build }: any) {
  const ref = useRef<HTMLCanvasElement>(null);
  useEffect(() => {
    const chart = new Chart(ref.current as HTMLCanvasElement, build());
    let alive = true;
    const fonts: any = (document as any).fonts;
    if (fonts && fonts.load) {
      Promise.all([
        fonts.load(`28px ${SANS}`),
        fonts.load(`40px ${SERIF}`),
        fonts.load(`italic 40px ${SERIF}`),
      ]).then(() => { if (alive) chart.update("none"); }).catch(() => {});
    }
    return () => { alive = false; chart.destroy(); };
  }, []);
  return <canvas ref={ref} width={width} height={height} style={{ position: "absolute", left, top, width, height }} />;
}

export default function App() {
  return (
    <div style={{ position: "absolute", left: 0, top: 0, width: 1000, height: 1453, background: "#fff", overflow: "hidden" }}>
      <ChartBox left={0} top={0} width={520} height={290} build={sepConfig} />
      <ChartBox left={0} top={250} width={520} height={390} build={paConfig} />
      <ChartBox left={520} top={0} width={480} height={640} build={skyConfig} />
      <ChartBox left={0} top={CMD_TOP} width={1000} height={813} build={cmdConfig} />
    </div>
  );
}
